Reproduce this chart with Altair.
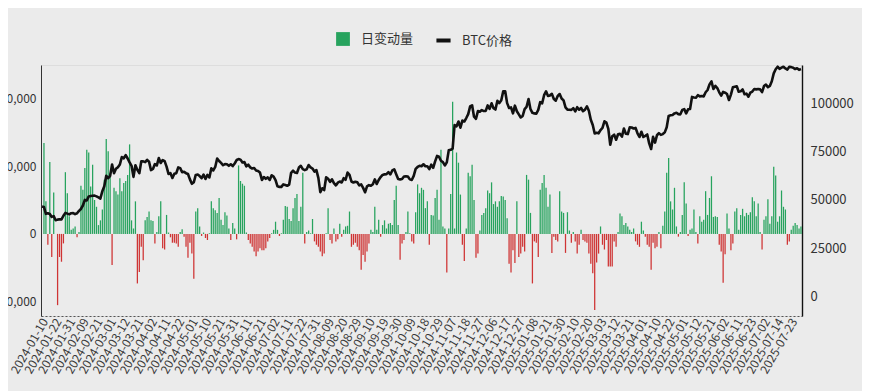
import altair as alt
import pandas as pd

# ---- categories: trading days shown on the x axis ----
HOLIDAYS = ["2024-01-15", "2024-02-19", "2024-03-29", "2024-05-27", "2024-06-19",
            "2024-09-02", "2024-12-25", "2025-01-01", "2025-01-09", "2025-01-20",
            "2025-02-17", "2025-04-18", "2025-05-26", "2025-06-19", "2025-07-04"]
dates = [d.strftime("%Y-%m-%d") for d in pd.bdate_range("2024-01-10", "2025-07-30")
         if d.strftime("%Y-%m-%d") not in HOLIDAYS]
assert len(dates) == 391, len(dates)
assert dates[210] == "2024-11-07" and dates[385] == "2025-07-23", (dates[210], dates[385])

label_dates = dates[::7]

# ---- daily change (bars) ----
flow_a = [0, 13400, 4800, -1600, 10600, -3400, 6100, 0, -10500, -3400,
          -4100, -1400, 9100, 6000, 2600, 600, 800, 1100, -500, 300,
          7100, 6500, 9700, 12400, 12000, 7000, 10200, 5000, 4000, 1300,
          2000, 3600, 8000, 14000, 12200, 9000, -4600, 6800, 6300, 5800,
          8200, 6300, 7500, 7800, 8700, 13200, 2000, 800, 4800, -7300,
          -5600, -1900, -3900, 2000, 2500, 3300, 2000, 1900, -1400, 300,
          2600, 4800, -2100, -2300, 2800, 200, -500, -1300, -1300, -1400,
          -1900, 300, 700, -400, -1900, -3500, -1300, -2900, -6600]
flow_b = [3300, 3800, 1100, -300, 200, -600, -900, 100, 4800, 3800,
          3500, 3100, 5300, 2100, 1300, 3200, 2700, 800, -900, 1600,
          800, -800, 10100, 7800, 7400, 7100, 200, -900, -1400, -1900,
          -2600, -3300, -2600, -2100, -2400, -2400, -2100, -1100, -600, 100,
          600, 1800, 600, -300, 100, 2100, 4100, 4000, 2200, 1900,
          3800, 5300, 5900, 1900, 4000, 9000, -1400, 300, 500, 100,
          2200, -1100, -1600, -1900, -2600, -3300, -2900, 100, 3800, -900,
          -1400, 800, -1100, -800, 1500, -400, 600, 1100, 1200]
flow_c = [3300, -1900, -1600, -1300, -1900, -2400, -5300, -3100, -4100, -2600,
          -1400, 600, 300, 4000, 600, 2100, -400, 1300, 2000, 800,
          1500, 1600, 1300, 5000, 7100, 1300, -3800, -1400, -900, 300,
          3300, 100, -1100, -1400, 3200, 7300, 6000, 6800, 6500, 3800,
          4800, -1600, 2800, 2700, 5300, 6500, 2100, 12400, 1100, 800,
          -5700, 800, 5900, 19500, 800, 12000, 10500, 5800, -1600, -4000,
          800, 9000, 8500, 10200, 5000, -3500, -2900, 500, 2800, 3100,
          3800, 6400, 6000, 7600, 4400, 4800, 4000, 4800, 5600]
flow_d = [5500, 5000, 2300, -4400, -5700, -2400, -4300, 4800, -3400, -2900,
          -1900, -2600, 8700, 8000, 3100, -7300, -1100, -1300, -3400, 6500,
          7500, 8700, 6800, 4000, 5800, -2800, -400, -900, -1100, 6300,
          3300, 3100, -2800, 3200, 500, -1300, 300, -1100, -2900, -1600,
          600, -900, -1100, -1300, -2900, -4400, -5800, -11200, -4200, -2900,
          1100, -1600, -2300, -900, -4800, -4800, -4800, -1100, -1900, 300,
          3000, 2600, 1300, 1600, 1100, 600, 300, 800, -1100, -1600,
          -1900, 1800, 500, -400, -1600, -1900, -5300, -1300, -2100]
flow_e = [-1900, 300, -2100, 1200, 3300, 9000, 11200, 4800, 3600, 6800,
          1100, -400, 300, 2800, 7600, 4500, -300, 600, 800, 3600,
          300, -1400, 2600, 1800, 2100, 6300, 2800, 5300, 8500, 2500,
          2600, 2500, -1600, -2600, -7200, -3000, 3000, 800, -2400, -1400,
          3300, 3800, 600, 2800, 3700, 2600, 3100, 2800, 3200, 5400,
          4800, 2600, 4500, 300, -2300, 2100, 2600, 5100, 1500, 2600,
          9900, 8600, 1800, 2600, 6400, 4000, 3600, -1600, -1100, 600,
          1200, 1600, 1300, 800, 1100]
flows = flow_a + flow_b + flow_c + flow_d + flow_e

# ---- BTC price (thousand USD), one row per 7 trading days ----
price_k = [
    46.6, 46.3, 42.8, 43.1, 42.7, 41.2, 41.6,
    39.5, 39.8, 40.0, 39.9, 41.8, 43.3, 42.9,
    42.5, 43.1, 43.2, 42.6, 43.1, 44.3, 45.3,
    47.1, 50.0, 49.7, 51.8, 52.0, 52.1, 52.2,
    51.8, 51.3, 50.7, 54.5, 57.0, 62.5, 61.2,
    62.4, 68.3, 63.8, 66.1, 66.9, 68.3, 72.1,
    71.5, 73.1, 71.4, 69.4, 67.6, 61.9, 67.9,
    65.5, 63.8, 69.9, 69.9, 69.5, 70.7, 69.7,
    65.4, 66.0, 68.5, 67.8, 71.6, 69.1, 70.6,
    70.0, 67.2, 63.4, 63.8, 61.3, 63.5, 63.8,
    66.8, 66.4, 64.3, 64.5, 63.8, 63.4, 60.6,
    58.3, 59.1, 62.9, 63.1, 62.3, 61.2, 63.1,
    60.8, 62.9, 61.6, 66.3, 65.2, 67.0, 71.4,
    70.1, 69.1, 67.9, 68.5, 68.4, 67.6, 68.4,
    67.5, 68.8, 70.6, 71.1, 70.8, 69.3, 69.5,
    67.3, 68.2, 66.8, 66.2, 66.5, 65.2, 64.9,
    64.1, 60.3, 61.8, 60.9, 61.6, 60.3, 62.7,
    62.0, 60.2, 57.0, 56.7, 56.7, 58.0, 57.7,
    57.3, 57.9, 64.0, 65.1, 64.1, 63.9, 66.7,
    67.6, 65.9, 65.4, 65.8, 68.0, 66.8, 66.2,
    64.6, 65.4, 61.4, 54.0, 56.0, 55.1, 61.7,
    60.9, 59.3, 60.6, 58.7, 57.5, 58.9, 59.5,
    59.0, 61.2, 60.4, 64.1, 62.9, 59.5, 59.0,
    59.4, 59.1, 57.5, 58.0, 56.2, 53.9, 57.0,
    57.6, 57.3, 58.1, 60.6, 58.2, 60.3, 61.8,
    62.9, 63.2, 63.3, 64.3, 63.2, 65.2, 65.8,
    63.3, 60.8, 60.6, 60.8, 62.1, 62.2, 62.1,
    60.6, 60.3, 62.4, 66.0, 67.0, 67.6, 67.4,
    68.4, 67.4, 67.4, 65.9, 68.2, 66.6, 69.9,
    72.7, 72.3, 70.2, 69.5, 67.8, 69.4, 75.6,
    75.9, 76.5, 88.7, 88.0, 90.5, 87.3, 91.0,
    90.5, 92.3, 94.3, 98.3, 98.9, 93.0, 91.9,
    95.9, 95.6, 96.4, 95.9, 96.0, 98.8, 97.0,
    99.9, 97.4, 96.7, 101.2, 100.0, 101.5, 106.1,
    106.1, 100.0, 97.5, 97.8, 94.7, 98.7, 95.8,
    94.2, 92.6, 93.4, 96.9, 98.1, 102.1, 96.9,
    95.0, 94.7, 94.5, 96.5, 100.5, 99.9, 104.1,
    106.1, 103.7, 104.0, 104.8, 102.1, 101.3, 103.7,
    104.7, 102.4, 101.4, 97.8, 96.6, 96.6, 96.5,
    97.4, 95.7, 97.9, 96.6, 97.5, 95.8, 96.6,
    98.3, 96.1, 91.4, 88.7, 84.3, 84.7, 84.4,
    86.1, 87.2, 90.6, 89.9, 86.7, 78.5, 82.9,
    83.7, 81.1, 83.9, 84.1, 82.7, 86.9, 84.2,
    84.0, 87.5, 87.4, 86.9, 87.2, 84.4, 82.5,
    85.2, 82.5, 83.1, 83.8, 79.2, 76.3, 82.6,
    79.6, 83.4, 84.5, 83.6, 84.0, 84.9, 87.5,
    93.4, 93.7, 93.9, 94.7, 95.0, 94.3, 94.2,
    96.5, 96.9, 94.7, 96.8, 97.0, 103.2, 102.9,
    102.8, 104.1, 103.5, 103.7, 103.5, 105.6, 106.8,
    109.7, 111.2, 107.3, 108.9, 107.8, 105.6, 103.9,
    105.8, 105.4, 104.7, 101.6, 104.4, 108.2, 108.5,
    108.7, 105.9, 106.1, 107.1, 104.6, 104.9, 103.3,
    105.4, 106.0, 107.3, 107.1, 107.3, 107.1, 105.7,
    108.8, 109.6, 108.2, 108.9, 111.3, 115.4, 117.5,
    118.8, 117.7, 118.3, 118.8, 117.9, 117.3, 118.8,
    118.6, 118.3, 117.6, 118.0, 117.2, 117.6,
]
assert len(flows) == 391 and len(price_k) == 391, (len(flows), len(price_k))

SERIES_BAR = "日变动量"
SERIES_LINE = "BTC价格"
GREEN = "#27a35e"
RED = "#cf3434"
BG = "#ebebeb"
FONT = "Noto Sans CJK SC"

df = pd.DataFrame({
    "date": dates,
    "flow": flows,
    "price": [p * 1000 for p in price_k],
    "s1": SERIES_BAR,
    "s2": SERIES_LINE,
})

x_enc = alt.X("date:O", sort=None, title=None,
              scale=alt.Scale(paddingInner=0.35, paddingOuter=0.2),
              axis=alt.Axis(values=label_dates, labelAngle=-60, labelFontSize=12,
                            labelColor="#3a3a3a", labelPadding=3, labelOffset=3,
                            ticks=False, labelOverlap=False, domainColor="#555",
                            domainDash=[2, 2], domainWidth=1.2, grid=False))

bars = alt.Chart(df).mark_bar().encode(
    x=x_enc,
    y=alt.Y("flow:Q", title=None,
            scale=alt.Scale(domain=[-12100, 24900], nice=False, zero=True),
            axis=alt.Axis(orient="left", values=[-10000, 0, 10000, 20000], format=",.0f",
                          ticks=False, grid=False, domainColor="#333",
                          labelFontSize=12, labelColor="#333", labelPadding=5)),
    fill=alt.condition(
        "datum.flow < 0",
        alt.value(RED),
        alt.Fill("s1:N", scale=alt.Scale(domain=[SERIES_BAR], range=[GREEN]),
                 legend=alt.Legend(title=None, orient="none", legendX=294, legendY=-34,
                                   symbolType="square", symbolSize=190,
                                   labelFontSize=13, labelColor="#333",
                                   labelOffset=10, padding=0)),
    ),
)

line = alt.Chart(df).mark_line(strokeWidth=2.6, strokeJoin="round").encode(
    x=x_enc,
    y=alt.Y("price:Q", title=None,
            scale=alt.Scale(domain=[-10000, 119700], nice=False, zero=False),
            axis=alt.Axis(orient="right", values=[0, 25000, 50000, 75000, 100000],
                          format="d", ticks=False, grid=False, domainColor="#111",
                          domainWidth=1.4, labelFontSize=13, labelColor="#333",
                          labelPadding=8)),
    stroke=alt.Stroke("s2:N", scale=alt.Scale(domain=[SERIES_LINE], range=["#111111"]),
                      legend=alt.Legend(title=None, orient="none", legendX=393, legendY=-34,
                                        symbolType="stroke", symbolSize=200,
                                        symbolStrokeWidth=4, labelFontSize=13,
                                        labelColor="#333", labelOffset=9, padding=0)),
)

chart = alt.layer(bars, line).resolve_scale(
    y="independent", fill="independent", stroke="independent"
).properties(
    width=761, height=251,
    autosize=alt.AutoSizeParams(type="none"),
    padding={"left": 33, "top": 57, "right": 60, "bottom": 75},
    background=BG,
).configure_view(stroke=None).configure(font=FONT)

chart.save("out.html", embed_options={"renderer": "svg", "actions": False})
